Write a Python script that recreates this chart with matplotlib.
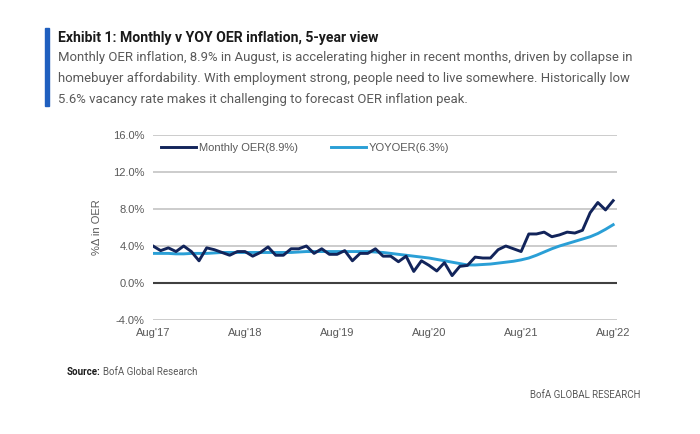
import matplotlib
matplotlib.use("Agg")
import matplotlib.pyplot as plt
import numpy as np

# ---------------------------------------------------------------------------
# Data: Aug'17 .. Aug'22, monthly (61 points), % change in OER
# ---------------------------------------------------------------------------
MONTHLY_OER = [
    4.0, 3.5, 3.8, 3.4, 4.0, 3.4, 2.4, 3.8, 3.6, 3.3,
    3.0, 3.4, 3.4, 2.9, 3.3, 3.9, 3.0, 3.0, 3.7, 3.7,
    4.0, 3.2, 3.7, 3.1, 3.1, 3.5, 2.4, 3.2, 3.2, 3.7,
    2.9, 2.9, 2.3, 2.9, 1.25, 2.4, 1.9, 1.3, 2.2, 0.8,
    1.8, 1.9, 2.8, 2.7, 2.7, 3.6, 4.0, 3.7, 3.4, 5.3,
    5.3, 5.5, 5.0, 5.2, 5.5, 5.4, 5.7, 7.6, 8.7, 7.9,
    8.9,
]
YOY_OER = [
    3.2, 3.2, 3.2, 3.15, 3.15, 3.2, 3.2, 3.2, 3.25, 3.3,
    3.3, 3.3, 3.3, 3.3, 3.3, 3.3, 3.3, 3.3, 3.3, 3.35,
    3.4, 3.4, 3.4, 3.4, 3.4, 3.4, 3.4, 3.4, 3.4, 3.35,
    3.3, 3.2, 3.1, 3.0, 2.9, 2.8, 2.7, 2.55, 2.4, 2.25,
    2.1, 1.95, 1.95, 2.0, 2.05, 2.15, 2.25, 2.35, 2.5, 2.7,
    3.0, 3.35, 3.7, 4.0, 4.25, 4.5, 4.75, 5.0, 5.35, 5.8,
    6.3,
]
X_TICK_LABELS = ["Aug'17", "Aug'18", "Aug'19", "Aug'20", "Aug'21", "Aug'22"]
Y_TICKS = [-4, 0, 4, 8, 12, 16]

TITLE = "Exhibit 1: Monthly v YOY OER inflation, 5-year view"
SUBTITLE = [
    "Monthly OER inflation, 8.9% in August, is accelerating higher in recent months, driven by collapse in",
    "homebuyer affordability. With employment strong, people need to live somewhere. Historically low",
    "5.6% vacancy rate makes it challenging to forecast OER inflation peak.",
]

NAVY = "#12245a"
LIGHT = "#2a9fd6"
GRAY_TXT = "#595959"
ARIAL = ["Liberation Sans", "DejaVu Sans"]

plt.rcParams["font.family"] = ["Roboto", "DejaVu Sans"]

fig = plt.figure(figsize=(7.0, 4.34), dpi=100)
W, H = 700, 434


def fx(px):
    return px / W


def fy(py):
    return 1 - py / H


# header block with blue bar
fig.patches.append(plt.Rectangle((fx(45), fy(106)), fx(4), (106 - 28) / H,
                                 transform=fig.transFigure, color="#1f5fbf"))
fig.text(fx(58), fy(38), TITLE, fontsize=10.1, fontweight="bold", color="#1a1a1a",
         va="center", ha="left")
for i, line in enumerate(SUBTITLE):
    fig.text(fx(58), fy(58 + i * 21), line, fontsize=9.45, color=GRAY_TXT,
             va="center", ha="left")

ax = fig.add_axes([fx(153), fy(320), fx(617 - 153), (320 - 135) / H])
x = np.arange(len(MONTHLY_OER))
ax.plot(x, MONTHLY_OER, color=NAVY, lw=2.1, label="Monthly OER(8.9%)", zorder=3)
ax.plot(x, YOY_OER, color=LIGHT, lw=2.1, label="YOYOER(6.3%)", zorder=2)

ax.set_xlim(0, 60.5)
ax.set_ylim(-4, 16)
ax.set_yticks(Y_TICKS)
ax.set_yticklabels([f"{v:.1f}%" for v in Y_TICKS], fontsize=8, color=GRAY_TXT,
                   family=ARIAL)
ax.set_xticks(np.arange(0, 61, 12))
ax.set_xticklabels(X_TICK_LABELS, fontsize=8, color=GRAY_TXT, family=ARIAL)
ax.tick_params(length=0, pad=6)
for t in Y_TICKS:
    if t == 0:
        ax.axhline(t, color="#404040", lw=1.5, zorder=1)
    else:
        ax.axhline(t, color="#c8c8c8", lw=1.3, zorder=1)
for s in ax.spines.values():
    s.set_visible(False)
ax.set_ylabel("%Δ in OER", fontsize=8, color=GRAY_TXT, labelpad=8, family=ARIAL)

leg = ax.legend(loc="upper left", ncol=2, frameon=False,
                bbox_to_anchor=(0.0, 1.0), handlelength=3.2, handletextpad=0.2,
                columnspacing=3.0, borderaxespad=0.3,
                prop={"family": ARIAL, "size": 8})
for t in leg.get_texts():
    t.set_color(GRAY_TXT)

fig.text(fx(67), fy(372), "Source:", fontsize=7, fontweight="bold", color="#1a1a1a",
         va="center", ha="left")
fig.text(fx(103), fy(372), "BofA Global Research", fontsize=7, color=GRAY_TXT,
         va="center", ha="left")
fig.text(fx(641), fy(395), "BofA GLOBAL RESEARCH", fontsize=7, color=GRAY_TXT,
         va="center", ha="right")

fig.savefig("out.png", dpi=100)
